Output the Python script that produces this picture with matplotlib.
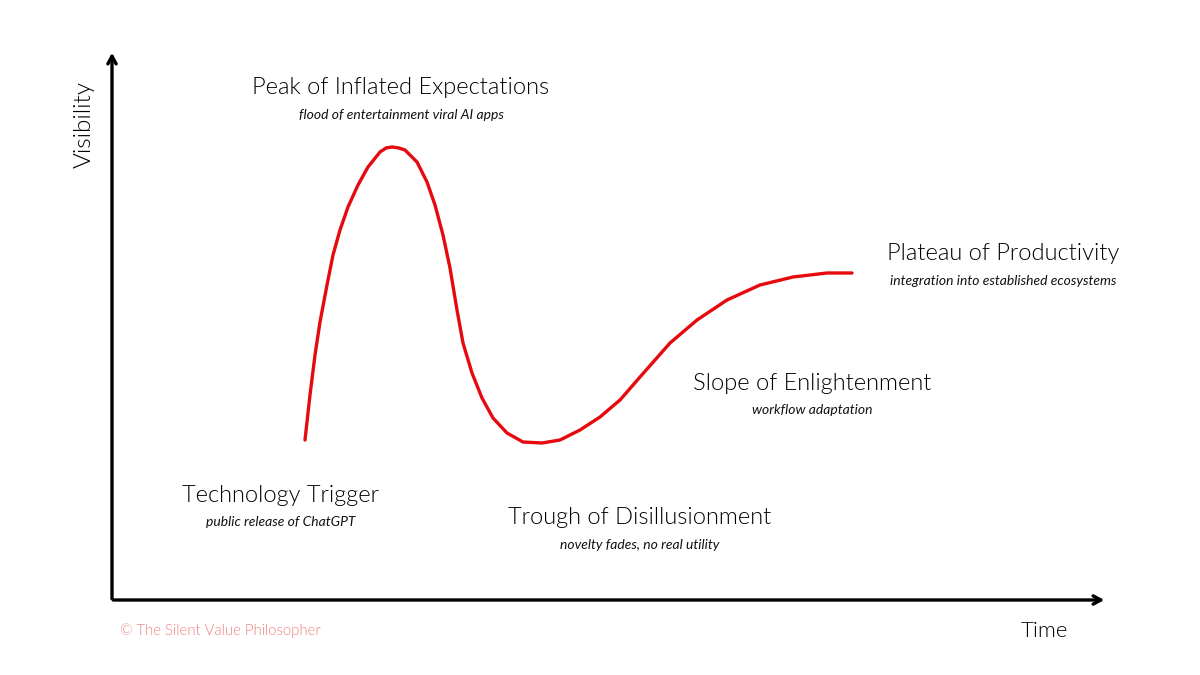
import matplotlib.pyplot as plt

plt.rcParams['font.family'] = ['Lato', 'DejaVu Sans']

# hype curve (time from the y axis, visibility up from the x axis)
time = [193, 198, 203, 208, 215, 221, 228, 236, 246, 256, 268, 274, 280, 287, 293,
        305, 315, 323, 331, 338, 345, 351, 360, 370, 381, 395, 411, 430,
        448, 468, 488, 508, 528, 558, 585, 615, 648, 681, 715, 740]
visib = [160, 205, 245, 278, 315, 345, 370, 393, 415, 433, 448, 452, 453, 452, 450,
         438, 418, 395, 365, 332, 290, 257, 227, 202, 182, 167, 158, 157,
         160, 170, 183, 200, 223, 257, 280, 300, 315, 323, 327, 327]

phases = ["Technology Trigger", "Peak of Inflated Expectations",
          "Trough of Disillusionment", "Slope of Enlightenment",
          "Plateau of Productivity"]
notes = ["public release of ChatGPT", "flood of entertainment viral AI apps",
         "novelty fades, no real utility", "workflow adaptation",
         "integration into established ecosystems"]

W = 300  # Lato Light

fig = plt.figure(figsize=(12, 6.75), dpi=100)
ax = fig.add_axes([0, 0, 1, 1])
ax.set_xlim(-112, 1088)
ax.set_ylim(-75, 600)
ax.axis('off')

ax.plot(time, visib, color='#e60a0f', lw=2.4, solid_capstyle='round',
        solid_joinstyle='round')

arrow = dict(arrowstyle='->,head_length=0.55,head_width=0.3', color='black', lw=2.4)
ax.annotate('', xy=(0, 550), xytext=(0, -1.5), arrowprops=arrow)
ax.annotate('', xy=(995, 0), xytext=(-1.5, 0), arrowprops=arrow)

ax.text(-28, 476, "Visibility", rotation=90, ha='center', va='center',
        fontsize=17.5, fontweight=W, color='black')
ax.text(932, -31, "Time", ha='center', va='center', fontsize=16, fontweight=W)
ax.text(8, -31, "\u00a9 The Silent Value Philosopher", ha='left', va='center',
        fontsize=10.7, color='#ee7f7f', fontweight=W)

spots = [(169, 105), (289, 512), (528, 82), (700, 217), (891, 346)]
for (x, y), title, note in zip(spots, phases, notes):
    ax.text(x, y, title, ha='center', va='center', fontsize=17, fontweight=W)
    ax.text(x, y - 27, note, ha='center', va='center', fontsize=10,
            style='italic', color='#111111')

fig.savefig('out.png', dpi=100, facecolor='white')
